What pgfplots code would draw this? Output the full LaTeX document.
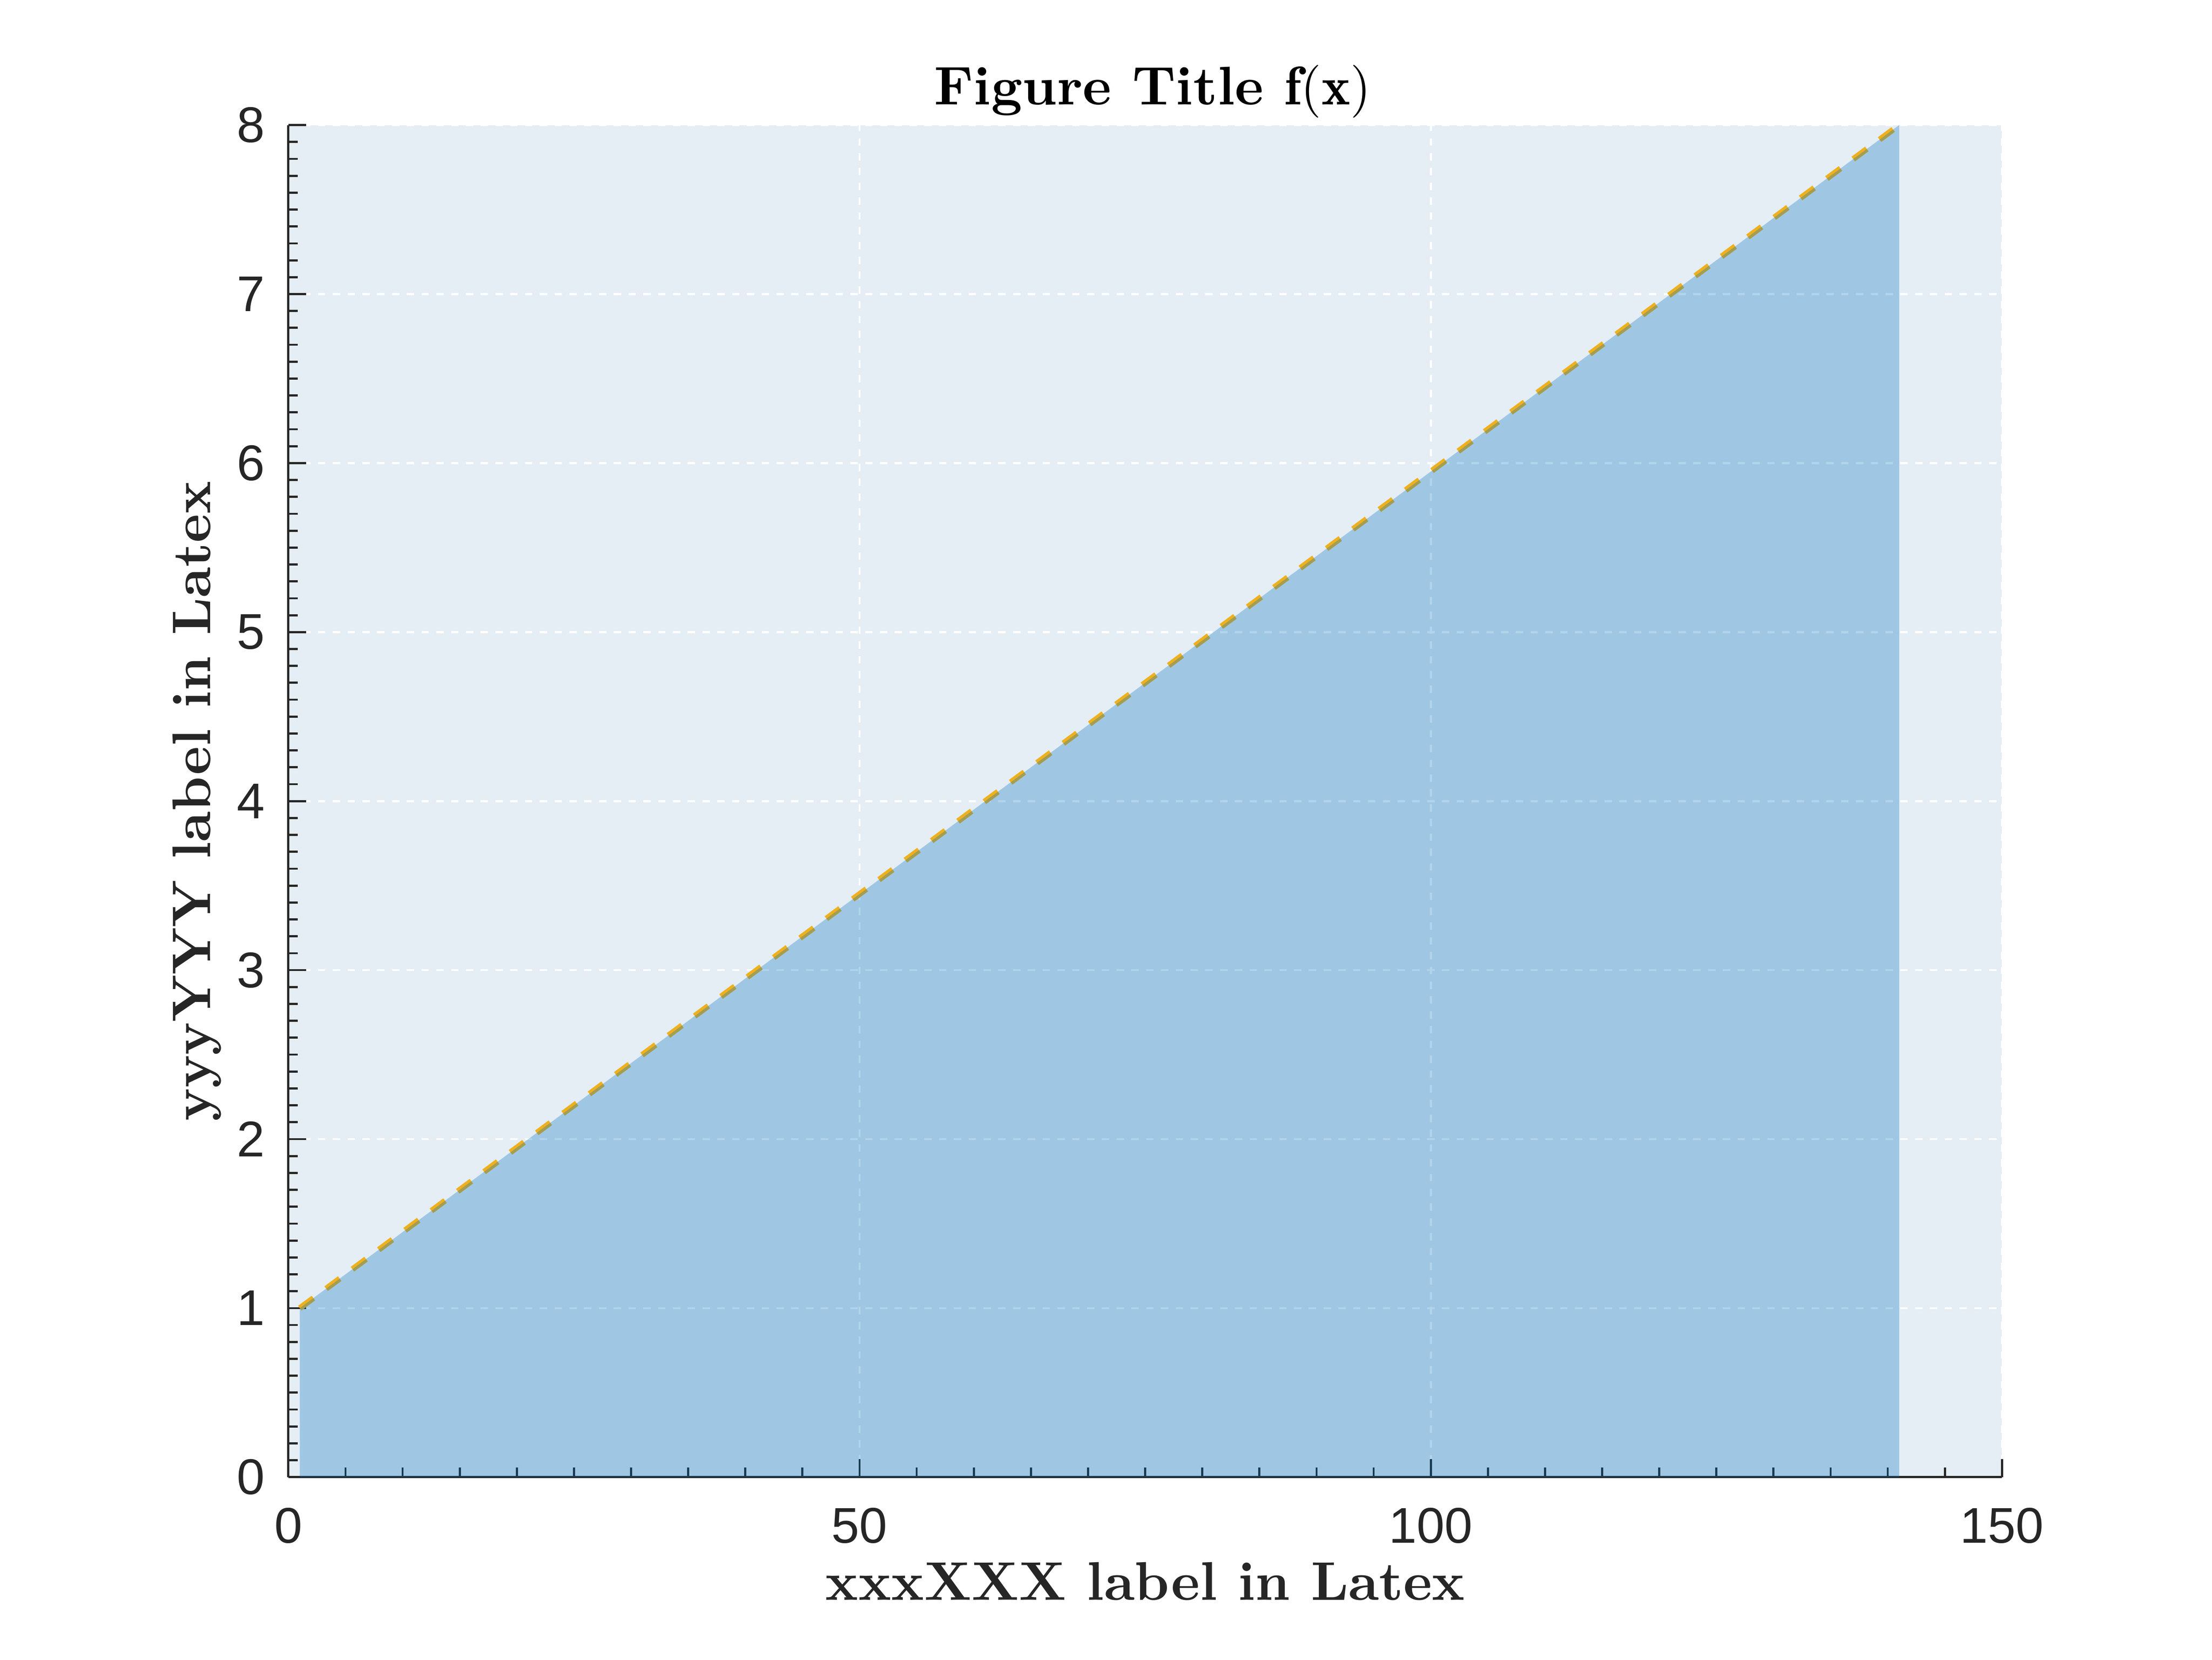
\documentclass[border=0pt]{standalone}
\usepackage{fontspec}
\usepackage{pgfplots}
\pgfplotsset{compat=1.18}
\usetikzlibrary{calc}
\newfontfamily\arial{Liberation Sans}
\definecolor{axgray}{RGB}{38,38,38}
\definecolor{bgblue}{RGB}{229,237,245}
\definecolor{mblue}{RGB}{0,114,189}
\definecolor{myellow}{RGB}{237,177,32}
\begin{document}
\begin{tikzpicture}
\begin{axis}[
  at={(0,0)}, anchor=south west,
  scale only axis,
  width=324.45pt, height=255.92pt,
  xmin=0, xmax=150, ymin=0, ymax=8,
  xtick={0,50,100,150}, ytick={0,1,2,3,4,5,6,7,8},
  minor x tick num=9, minor y tick num=9,
  axis x line*=bottom, axis y line*=left,
  axis line style={color=axgray, line width=0.4pt},
  tick style={color=axgray, line width=0.4pt},
  tick align=inside,
  major tick length=3.4pt, minor tick length=1.8pt,
  axis background/.style={fill=bgblue},
  grid=major,
  major grid style={white, line width=0.4pt, dash pattern=on 1.4pt off 1.4pt},
  ticklabel style={font=\arial\fontsize{9.5}{11}\selectfont, text=axgray},
  /pgf/number format/assume math mode=true,
  xticklabel style={yshift=-2.3pt},
  yticklabel style={xshift=-0.9pt},
  xlabel={\bfseries xxxXXX label in Latex},
  ylabel={\bfseries yyyYYY label in Latex},
  xlabel style={at={(axis description cs:0.5,0)}, anchor=base, yshift=-23.3pt, font=\fontsize{10.3}{12}\selectfont, text=axgray},
  ylabel style={at={($(axis description cs:0,0.5)+(-14.8pt,0)$)}, anchor=base, font=\fontsize{10.3}{12}\selectfont, text=axgray},
  every axis title shift=0pt,
  title={\bfseries Figure Title $\mathbf{f(x)}$},
  title style={at={(axis description cs:0.5,1)}, anchor=base, yshift=3.9pt, xshift=1.4pt, font=\fontsize{10.3}{12}\selectfont, text=black},
]
\addplot[color=myellow, line width=1.1pt, dash pattern=on 3.2pt off 3pt] coordinates {(1,1) (141,8)};
\addplot[draw=none, fill=mblue, fill opacity=0.3] coordinates {(1,1) (141,8)} \closedcycle;
\end{axis}
\path (-54.6pt,-34.58pt) rectangle (364.21pt,279.58pt);
\end{tikzpicture}
\end{document}
